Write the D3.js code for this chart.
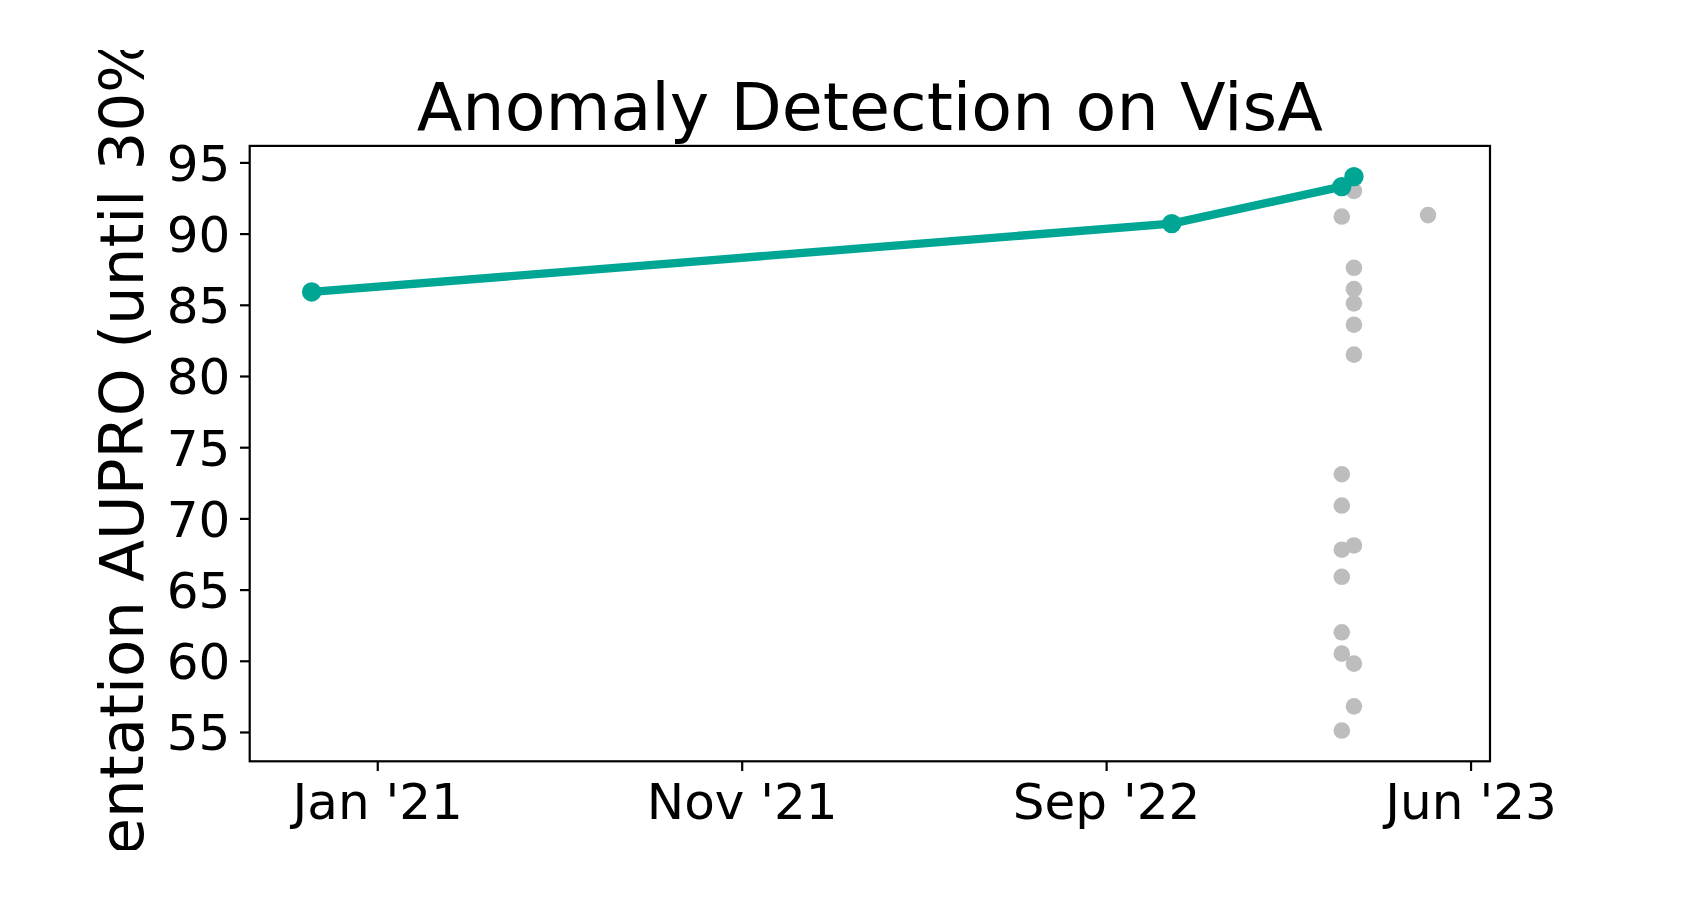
<!DOCTYPE html>
<html lang="en">
<head>
    <meta charset="UTF-8">
    <title>Anomaly Detection on VisA</title>
    <script src="https://d3js.org/d3.v7.min.js"></script>
    <style>
        body { margin: 0; background: #fff; }
        text { font-family: "DejaVu Sans", sans-serif; fill: #000; }
    </style>
</head>
<body>
    <svg width="1700" height="900"></svg>
    <script>
        // best result so far (teal line)
        const bestDates = ["2020-11-17", "2022-10-26", "2023-03-15", "2023-03-25"];
        const bestValues = [85.9, 90.7, 93.3, 94.0];

        // all other methods (grey dots)
        const otherDates = [
            "2023-03-15", "2023-03-15", "2023-03-15", "2023-03-15",
            "2023-03-15", "2023-03-15", "2023-03-15", "2023-03-15",
            "2023-03-25", "2023-03-25", "2023-03-25", "2023-03-25", "2023-03-25",
            "2023-03-25", "2023-03-25", "2023-03-25", "2023-03-25",
            "2023-05-25"
        ];
        const otherValues = [
            91.2, 73.1, 70.9, 67.8, 65.9, 62.0, 60.5, 55.1,
            93.0, 87.6, 86.1, 85.1, 83.6, 81.5, 68.1, 59.8, 56.8,
            91.3
        ];

        const xTickDates = ["2021-01-10", "2021-11-06", "2022-09-02", "2023-06-29"];
        const yTicks = [55, 60, 65, 70, 75, 80, 85, 90, 95];

        const parse = d3.timeParse("%Y-%m-%d");
        const best = bestDates.map((d, i) => ({ date: parse(d), value: bestValues[i] }));
        const others = otherDates.map((d, i) => ({ date: parse(d), value: otherValues[i] }));

        const svg = d3.select("svg");
        const mLeft = 249.7, mRight = 1490, mTop = 145.9, mBottom = 761.3;
        const pad = 0.0555;

        const allDates = best.concat(others).map(d => +d.date);
        const xMin = d3.min(allDates), xMax = d3.max(allDates), xSpan = xMax - xMin;
        const x = d3.scaleTime()
            .domain([new Date(xMin - pad * xSpan), new Date(xMax + pad * xSpan)])
            .range([mLeft, mRight]);

        const allVals = best.concat(others).map(d => d.value);
        const yMin = d3.min(allVals), yMax = d3.max(allVals), ySpan = yMax - yMin;
        const y = d3.scaleLinear()
            .domain([yMin - pad * ySpan, yMax + pad * ySpan])
            .range([mBottom, mTop]);

        // grey dots first, teal drawn on top
        svg.append("g")
            .selectAll("circle")
            .data(others)
            .enter().append("circle")
            .attr("cx", d => x(d.date))
            .attr("cy", d => y(d.value))
            .attr("r", 8.3)
            .attr("fill", "#bdbdbd");

        const teal = "#00a694";
        svg.append("path")
            .datum(best)
            .attr("fill", "none")
            .attr("stroke", teal)
            .attr("stroke-width", 8.3)
            .attr("stroke-linejoin", "round")
            .attr("d", d3.line().x(d => x(d.date)).y(d => y(d.value)));

        svg.append("g")
            .selectAll("circle")
            .data(best)
            .enter().append("circle")
            .attr("cx", d => x(d.date))
            .attr("cy", d => y(d.value))
            .attr("r", 9.7)
            .attr("fill", teal);

        // axes
        const fmt = d3.timeFormat("%b '%y");
        const xAxis = svg.append("g")
            .attr("transform", `translate(0,${mBottom})`)
            .call(d3.axisBottom(x)
                .tickValues(xTickDates.map(parse))
                .tickFormat(fmt)
                .tickSize(9.7)
                .tickPadding(9.7));

        const yAxis = svg.append("g")
            .attr("transform", `translate(${mLeft},0)`)
            .call(d3.axisLeft(y)
                .tickValues(yTicks)
                .tickSize(9.7)
                .tickPadding(9.7));

        [xAxis, yAxis].forEach(g => {
            g.select(".domain").remove();
            g.selectAll(".tick line").attr("stroke", "#000").attr("stroke-width", 2.2);
            g.selectAll(".tick text")
                .style("font-family", "'DejaVu Sans', sans-serif")
                .style("font-size", "50px")
                .attr("fill", "#000");
        });
        yAxis.selectAll(".tick text").attr("dy", "0.36em");
        xAxis.selectAll(".tick text").attr("dy", "0.76em");

        // frame
        svg.append("rect")
            .attr("x", mLeft)
            .attr("y", mTop)
            .attr("width", mRight - mLeft)
            .attr("height", mBottom - mTop)
            .attr("fill", "none")
            .attr("stroke", "#000")
            .attr("stroke-width", 2.2);

        // title
        svg.append("text")
            .attr("x", (mLeft + mRight) / 2)
            .attr("y", 130)
            .attr("text-anchor", "middle")
            .style("font-size", "66.7px")
            .text("Anomaly Detection on VisA");

        // y label, cut off at the figure edges like the original
        svg.append("clipPath")
            .attr("id", "figclip")
            .append("rect")
            .attr("x", 0).attr("y", 50)
            .attr("width", 1700).attr("height", 800);

        svg.append("g")
            .attr("clip-path", "url(#figclip)")
            .append("text")
            .attr("transform", `translate(143.3,${(mTop + mBottom) / 2}) rotate(-90)`)
            .attr("text-anchor", "middle")
            .style("font-size", "61px")
            .text("Segmentation AUPRO (until 30% FPR)");
    </script>
</body>
</html>
